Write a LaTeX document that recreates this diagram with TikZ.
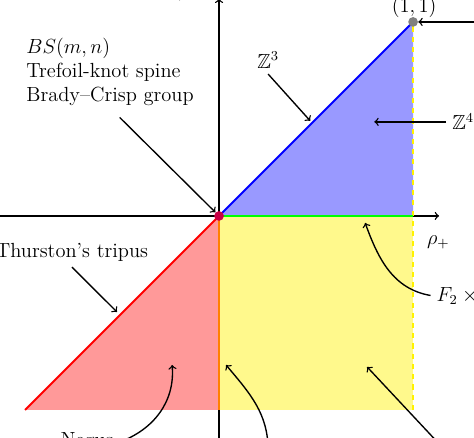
\documentclass[tikz,border=0pt]{standalone}
\usepackage{amssymb}
\definecolor{dotred}{RGB}{200,0,70}
\begin{document}
\begin{tikzpicture}[scale=4, >=to, font=\large]
  \useasboundingbox (-1.129,-1.144) rectangle (1.314,1.113);
  % regions
  \fill[blue!40] (0,0) -- (1,0) -- (1,1) -- cycle;
  \fill[yellow!45] (0,0) rectangle (1,-1);
  \fill[red!40] (0,0) -- (-1,-1) -- (0,-1) -- cycle;
  % axes
  \draw[thick,->] (-1.2,0) -- (1.134,0);
  \draw[thick,->] (0,-1.2) -- (0,1.12);
  \node (rhom) at (-0.15,1.14) {$\rho_-$};
  \node (rhop) at (1.13,-0.135) {$\rho_+$};
  % edges
  \draw[yellow, very thick, dashed] (1,-1) -- (1,1);
  \draw[blue, very thick] (0,0) -- (1,1);
  \draw[green, very thick] (0,0) -- (1,0);
  \draw[red, very thick] (0,0) -- (-1,-1);
  \draw[orange, very thick] (0,0) -- (0,-1);
  % vertices
  \node[circle, fill=dotred, inner sep=0, minimum size=0.2cm] (O) at (0,0) {};
  \node[circle, fill=gray, inner sep=0, minimum size=0.2cm] (P) at (1,1) {};
  \node (Plab) at (1.005,1.075) {$(1,1)$};
  % labels
  \node[align=left] (bs) at (-0.562,0.742) {$BS(m,n)$\\Trefoil-knot spine\\Brady--Crisp group};
  \node (z3) at (0.253,0.804) {$\mathbb{Z}^3$};
  \node (z4) at (1.258,0.485) {$\mathbb{Z}^4$};
  \node (tri) at (-0.758,-0.186) {Thurston's tripus};
  \node[anchor=west] (f2) at (1.09,-0.41) {$F_2\times\mathbb{Z}$};
  \node (negus) at (-0.68,-1.165) {Negus};
  % arrow ends
  \coordinate (z3end) at (0.47,0.49);
  \coordinate (z4end) at (0.80,0.485);
  \coordinate (triend) at (-0.526,-0.495);
  \coordinate (f2end) at (0.753,-0.036);
  \coordinate (negend) at (-0.242,-0.768);
  \coordinate (midstart) at (0.253,-1.21);
  \coordinate (midend) at (0.036,-0.768);
  \coordinate (rstart) at (1.139,-1.18);
  \coordinate (rend) at (0.763,-0.778);
  \coordinate (pstart) at (1.35,1);
  % arrows
  \draw[thick,->] (bs.south) ++(0.05,-0.03) -- (O);
  \draw[thick,->] (z3.south) -- (z3end);
  \draw[thick,->] (z4.west) -- (z4end);
  \draw[thick,->] (pstart) -- (P);
  \draw[thick,->] (tri.south) -- (triend);
  \draw[thick,->] (f2.west) to[out=170,in=-70] (f2end);
  \draw[thick,->] (negus.east) to[out=20,in=-85] (negend);
  \draw[thick,->] (midstart) to[out=90,in=-50] (midend);
  \draw[thick,->] (rstart) -- (rend);
\end{tikzpicture}
\end{document}
